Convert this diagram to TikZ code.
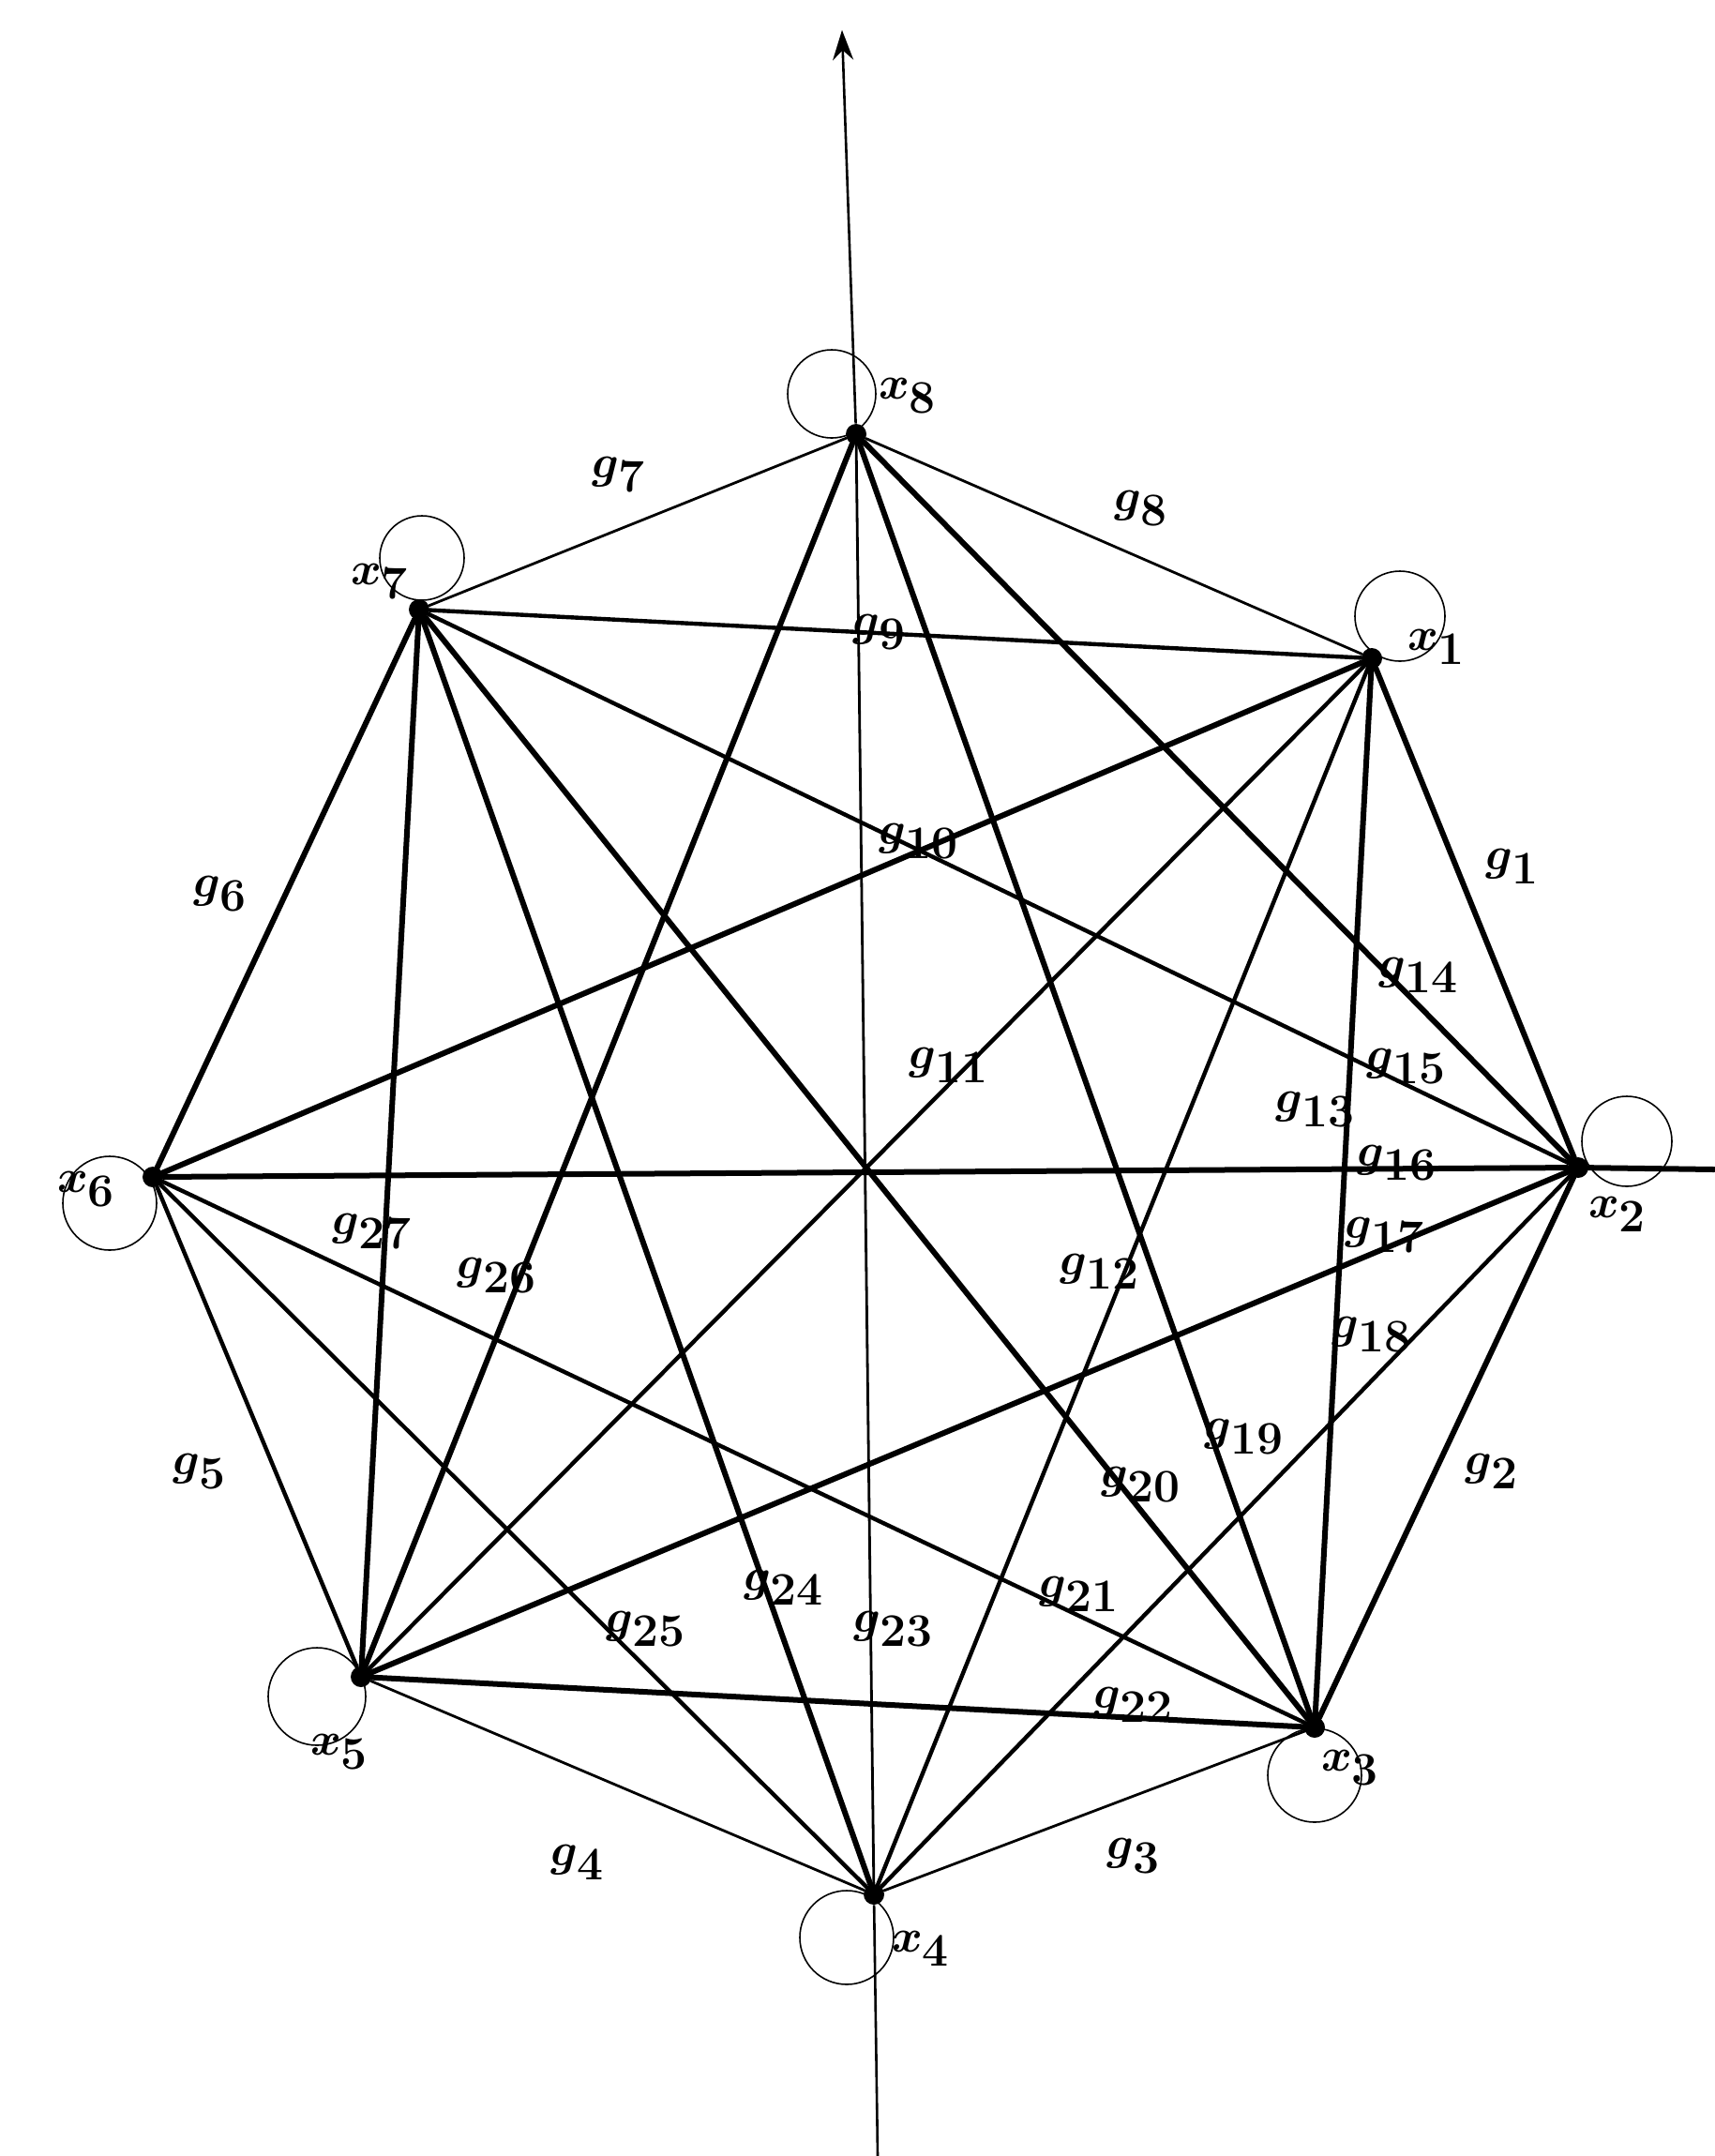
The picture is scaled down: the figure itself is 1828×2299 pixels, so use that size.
\documentclass[tikz,border=0pt]{standalone}
\usetikzlibrary{arrows.meta}
\begin{document}
\begin{tikzpicture}[x=0.5pt,y=-0.5pt,
  vtx/.style={circle,fill=black,inner sep=0pt,minimum size=11pt},
  ring/.style={draw=black,line width=0.8pt},
  thickE/.style={line width=3pt,line cap=round},
  medE/.style={line width=2.2pt,line cap=round},
  thinE/.style={line width=1.4pt,line cap=round},
  axisline/.style={line width=1.3pt},
  lab/.style={font=\fontsize{38}{44}\selectfont\boldmath,inner sep=0pt},
  vlab/.style={font=\fontsize{42}{48}\selectfont\boldmath,inner sep=0pt}]
\useasboundingbox (0,0) rectangle (1828,2299);
\fill[white] (0,0) rectangle (1828,2299);
% vertices
\node[vtx] (x8) at (913,463) {};
\node[vtx] (x7) at (447,650) {};
\node[vtx] (x1) at (1463,702) {};
\node[vtx] (x6) at (163,1255) {};
\node[vtx] (x2) at (1683,1245) {};
\node[vtx] (x5) at (385,1788) {};
\node[vtx] (x3) at (1402,1842) {};
\node[vtx] (x4) at (932,2020) {};
% axes
\coordinate (topax) at (898,32);
\coordinate (botax) at (936,2299);
\coordinate (rightax) at (1828,1247);
\draw[axisline,-{Stealth[length=16pt,width=11pt]}] (x8) -- (topax);
\draw[axisline] (x4) -- (botax);
\draw[thickE] (x2) -- (rightax);
% rings
\draw[ring] (887,420) circle (47);
\draw[ring] (450,595) circle (45);
\draw[ring] (1493,657) circle (48);
\draw[ring] (117,1283) circle (50);
\draw[ring] (1735,1217) circle (48);
\draw[ring] (338,1809) circle (52);
\draw[ring] (1402,1893) circle (50);
\draw[ring] (903,2066) circle (50);
% outer edges
\draw[thickE] (x1) -- (x2);
\draw[thickE] (x2) -- (x3);
\draw[thinE] (x3) -- (x4);
\draw[thinE] (x4) -- (x5);
\draw[medE] (x5) -- (x6);
\draw[thickE] (x6) -- (x7);
\draw[thinE] (x7) -- (x8);
\draw[thinE] (x8) -- (x1);
% inner edges
\draw[medE] (x7) -- (x1);
\draw[thickE] (x6) -- (x1);
\draw[medE] (x1) -- (x5);
\draw[medE] (x1) -- (x4);
\draw[thickE] (x1) -- (x3);
\draw[thickE] (x8) -- (x2);
\draw[medE] (x7) -- (x2);
\draw[thickE] (x6) -- (x2);
\draw[thickE] (x5) -- (x2);
\draw[medE] (x4) -- (x2);
\draw[thickE] (x8) -- (x3);
\draw[thickE] (x7) -- (x3);
\draw[medE] (x6) -- (x3);
\draw[thickE] (x5) -- (x3);
\draw[thinE] (x8) -- (x4);
\draw[thickE] (x7) -- (x4);
\draw[medE] (x6) -- (x4);
\draw[thickE] (x8) -- (x5);
\draw[thickE] (x7) -- (x5);
% vertex labels
\node[vlab] (lx8) at (968,422) {$x_8$};
\node[vlab] (lx7) at (405,620) {$x_7$};
\node[vlab] (lx1) at (1532,690) {$x_1$};
\node[vlab] (lx6) at (92,1268) {$x_6$};
\node[vlab] (lx2) at (1725,1295) {$x_2$};
\node[vlab] (lx5) at (362,1868) {$x_5$};
\node[vlab] (lx3) at (1440,1885) {$x_3$};
\node[vlab] (lx4) at (982,2078) {$x_4$};
% edge labels
\node[lab] (g1) at (1613,924) {$g_{1}$};
\node[lab] (g2) at (1591,1569) {$g_{2}$};
\node[lab] (g3) at (1209,1979) {$g_{3}$};
\node[lab] (g4) at (616,1986) {$g_{4}$};
\node[lab] (g5) at (213,1569) {$g_{5}$};
\node[lab] (g6) at (235,953) {$g_{6}$};
\node[lab] (g7) at (660,506) {$g_{7}$};
\node[lab] (g8) at (1217,542) {$g_{8}$};
\node[lab] (g9) at (938,674) {$g_{9}$};
\node[lab] (g10) at (980,897) {$g_{10}$};
\node[lab] (g11) at (1012,1136) {$g_{11}$};
\node[lab] (g12) at (1173,1356) {$g_{12}$};
\node[lab] (g13) at (1403,1183) {$g_{13}$};
\node[lab] (g14) at (1513,1040) {$g_{14}$};
\node[lab] (g15) at (1500,1137) {$g_{15}$};
\node[lab] (g16) at (1490,1240) {$g_{16}$};
\node[lab] (g17) at (1477,1317) {$g_{17}$};
\node[lab] (g18) at (1463,1423) {$g_{18}$};
\node[lab] (g19) at (1327,1532) {$g_{19}$};
\node[lab] (g20) at (1217,1583) {$g_{20}$};
\node[lab] (g21) at (1151,1700) {$g_{21}$};
\node[lab] (g22) at (1209,1818) {$g_{22}$};
\node[lab] (g23) at (953,1737) {$g_{23}$};
\node[lab] (g24) at (836,1693) {$g_{24}$};
\node[lab] (g25) at (689,1737) {$g_{25}$};
\node[lab] (g26) at (530,1360) {$g_{26}$};
\node[lab] (g27) at (397,1313) {$g_{27}$};
\end{tikzpicture}
\end{document}
